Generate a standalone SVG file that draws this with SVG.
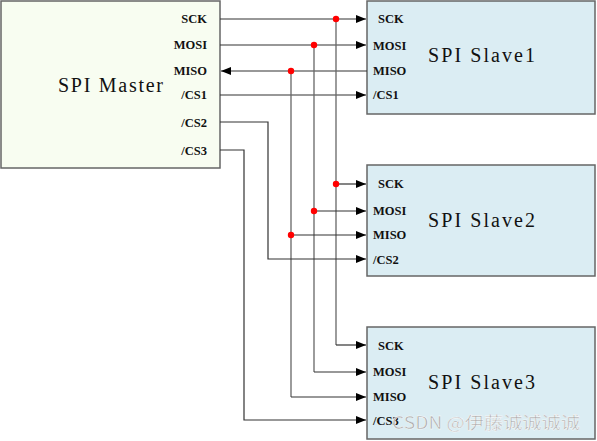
<svg xmlns="http://www.w3.org/2000/svg" width="597" height="441" viewBox="0 0 597 441">
<style>
.box{stroke:#666;stroke-width:1.5}
.master{fill:#f8fdf1}
.slave{fill:#dbedf3}
.title{font-family:"Liberation Serif",serif;font-size:20px;fill:#111}
.lbl{font-family:"Liberation Serif",serif;font-size:12.5px;font-weight:bold;fill:#111}
.w{fill:none;stroke:#333;stroke-width:1.2}
.v{fill:none;stroke:#666;stroke-width:1.3}
.dot{fill:#f00}
.wm{font-family:"Noto Sans CJK SC","Liberation Sans",sans-serif;font-size:17px;fill:#aaa;stroke:#fff;stroke-width:0.4}
</style>
<defs>
<marker id="ah" viewBox="0 0 10 8" refX="10" refY="4" markerWidth="10" markerHeight="8" markerUnits="userSpaceOnUse" orient="auto">
<path d="M0,0 L10,4 L0,8 Z" fill="#000"/>
</marker>
</defs>
<g id="master">
<rect class="box master" x="1" y="1" width="219" height="167"/>
<text class="title" x="58" y="92" textLength="105" lengthAdjust="spacing">SPI Master</text>
<text class="lbl" x="207" y="23" text-anchor="end">SCK</text>
<text class="lbl" x="207" y="49" text-anchor="end">MOSI</text>
<text class="lbl" x="207" y="75" text-anchor="end">MISO</text>
<text class="lbl" x="207" y="99" text-anchor="end">/CS1</text>
<text class="lbl" x="207" y="127" text-anchor="end">/CS2</text>
<text class="lbl" x="207" y="155" text-anchor="end">/CS3</text>
</g>
<g id="slave1">
<rect class="box slave" x="367" y="1" width="228" height="113"/>
<text class="title" x="428" y="62" textLength="107" lengthAdjust="spacing">SPI Slave1</text>
<text class="lbl" x="378" y="23">SCK</text>
<text class="lbl" x="373" y="50">MOSI</text>
<text class="lbl" x="373" y="75">MISO</text>
<text class="lbl" x="373" y="99">/CS1</text>
</g>
<g id="slave2">
<rect class="box slave" x="367" y="165" width="228" height="111"/>
<text class="title" x="428" y="227" textLength="107" lengthAdjust="spacing">SPI Slave2</text>
<text class="lbl" x="378" y="188">SCK</text>
<text class="lbl" x="373" y="215">MOSI</text>
<text class="lbl" x="373" y="239">MISO</text>
<text class="lbl" x="373" y="264">/CS2</text>
</g>
<g id="slave3">
<rect class="box slave" x="367" y="327" width="228" height="112"/>
<text class="title" x="428" y="389" textLength="107" lengthAdjust="spacing">SPI Slave3</text>
<text class="lbl" x="378" y="350">SCK</text>
<text class="lbl" x="373" y="376">MOSI</text>
<text class="lbl" x="373" y="401">MISO</text>
<text class="lbl" x="373" y="425">/CS3</text>
</g>
<g id="connectors">
<path class="w" d="M220,19 H366" marker-end="url(#ah)"/>
<path class="w" d="M220,45 H366" marker-end="url(#ah)"/>
<path class="w" d="M367,71 H221" marker-end="url(#ah)"/>
<path class="w" d="M220,95 H366" marker-end="url(#ah)"/>
<path class="v" d="M336,19 V345"/>
<path class="v" d="M314,45 V372"/>
<path class="v" d="M291,71 V397"/>
<path class="w" d="M336,184 H366" marker-end="url(#ah)"/>
<path class="w" d="M314,211 H366" marker-end="url(#ah)"/>
<path class="w" d="M291,235 H366" marker-end="url(#ah)"/>
<path class="w" d="M220,122 H268 V259 H366" marker-end="url(#ah)"/>
<path class="w" d="M336,345 H366" marker-end="url(#ah)"/>
<path class="w" d="M314,372 H366" marker-end="url(#ah)"/>
<path class="w" d="M291,397 H366" marker-end="url(#ah)"/>
<path class="w" d="M220,150 H244 V420 H366" marker-end="url(#ah)"/>
<circle class="dot" cx="336" cy="19" r="3.2"/>
<circle class="dot" cx="314" cy="45" r="3.2"/>
<circle class="dot" cx="291" cy="71" r="3.2"/>
<circle class="dot" cx="336" cy="184" r="3.2"/>
<circle class="dot" cx="314" cy="211" r="3.2"/>
<circle class="dot" cx="291" cy="235" r="3.2"/>
</g>
<text class="wm" x="392" y="429" textLength="188" lengthAdjust="spacingAndGlyphs">CSDN @伊藤诚诚诚诚</text>
</svg>
